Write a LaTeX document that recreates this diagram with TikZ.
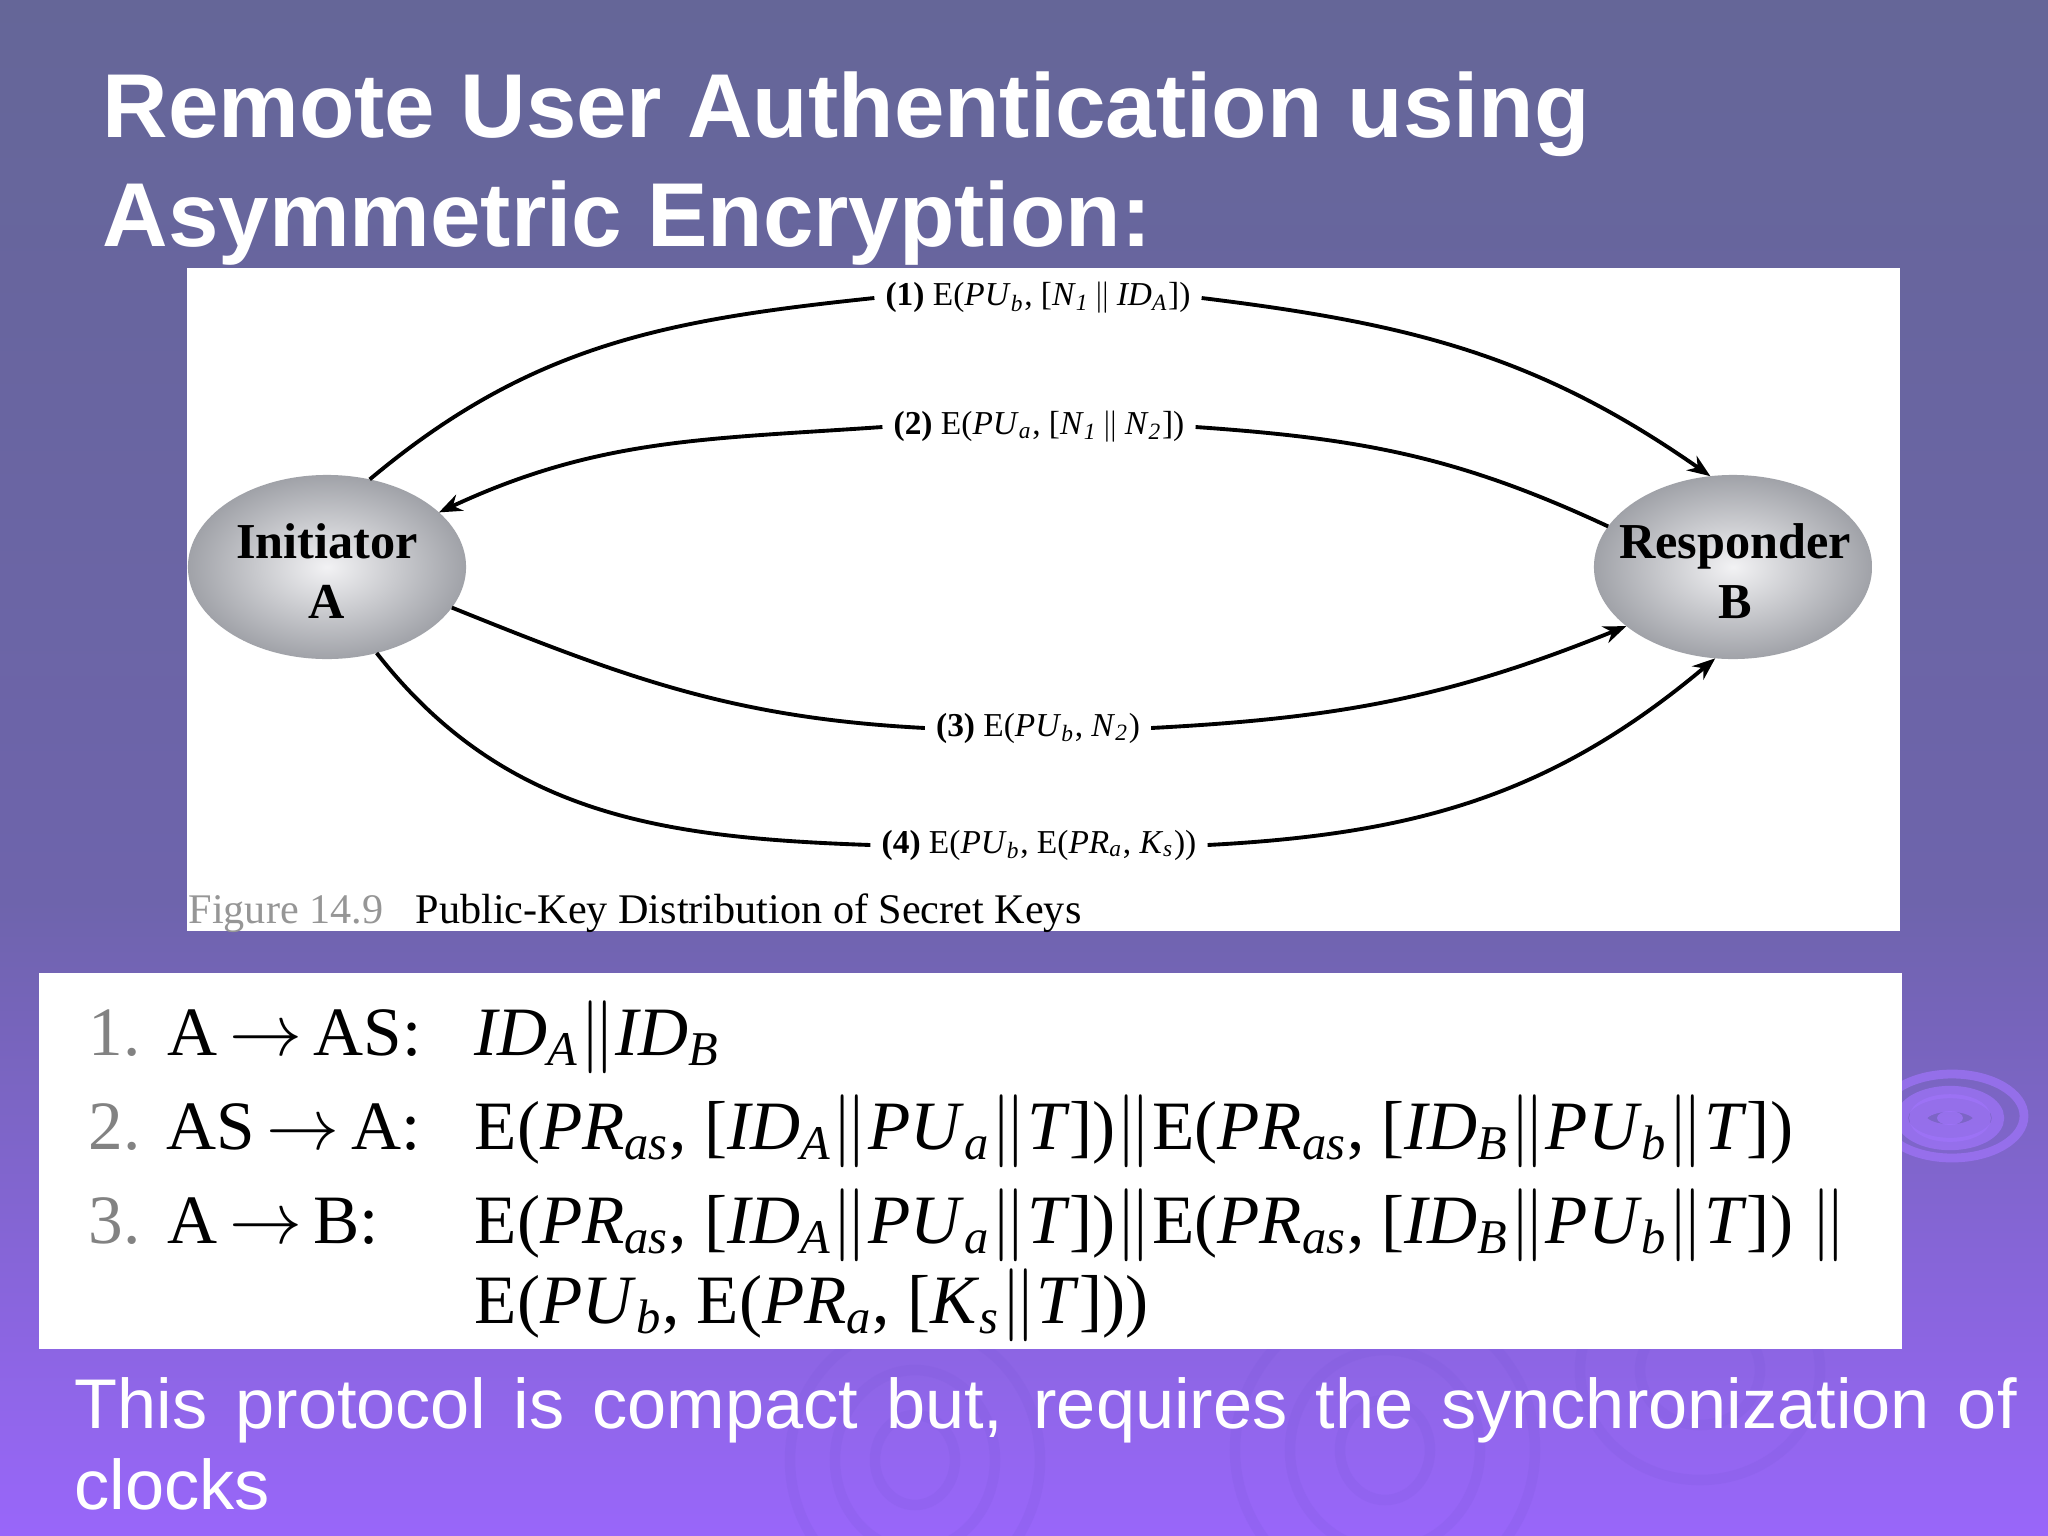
\documentclass[tikz,border=0pt]{standalone}
\usepackage{fontspec}
\setmainfont{Liberation Serif}
\newfontfamily\sansfam{Liberation Sans}
\usetikzlibrary{shapes.geometric,arrows.meta}
\definecolor{bgtop}{RGB}{101,102,152}
\definecolor{bgmid}{RGB}{110,100,172}
\definecolor{bgbot}{RGB}{153,102,250}
\definecolor{ripplec}{RGB}{160,116,250}
\definecolor{ripdark}{RGB}{120,88,215}
\definecolor{numgray}{RGB}{130,130,130}
\definecolor{figgray}{RGB}{150,150,150}
\definecolor{nodein}{RGB}{242,242,244}
\definecolor{nodeout}{RGB}{160,162,168}
\newcommand\vv[2]{\textit{#1}\textsubscript{\textit{#2}}}
\newcommand\Cat{$\|$}
\begin{document}
\begin{tikzpicture}[x=0.01cm,y=0.01cm,
  party/.style={ellipse, minimum width=2.78cm, minimum height=1.84cm, inner sep=0pt, outer sep=0pt,
    shading=radial, inner color=nodein, outer color=nodeout},
  partytext/.style={align=center, font=\fontsize{14.3}{17}\selectfont\bfseries, inner sep=0pt},
  msg/.style={fill=white, inner sep=3pt, font=\fontsize{9.5}{11}\selectfont},
  link/.style={line width=1.1pt, black},
  arrowed/.style={-{Stealth[length=6.5pt,width=5pt]}},
  listnum/.style={anchor=base west, inner sep=0pt, text=numgray, font=\fontsize{19.7}{23}\selectfont},
  listtxt/.style={anchor=base west, inner sep=0pt, font=\fontsize{19.7}{23}\selectfont},
  titletxt/.style={anchor=base west, inner sep=0pt, text=white, font=\sansfam\bfseries\fontsize{25.8}{31}\selectfont},
  capt/.style={anchor=base west, inner sep=0pt, font=\fontsize{12}{14}\selectfont},
  ring/.style={draw=ripplec, opacity=0.7},
  faint/.style={draw=ripdark, opacity=0.16, line width=3pt}
]
\useasboundingbox (0,0) rectangle (2048,-1536);
% background
\fill[top color=bgtop, bottom color=bgmid] (0,0) rectangle (2048,-901);
\fill[top color=bgmid, bottom color=bgbot] (0,-900) rectangle (2048,-1536);
% ripples right
\fill[ripplec, opacity=0.75] (1950,-1118) ellipse (13 and 7);
\draw[ring, line width=5pt] (1950,-1118) ellipse (32 and 15);
\draw[ring, line width=3.5pt] (1950,-1118) ellipse (48 and 26);
\draw[ring, line width=2.5pt] (1952,-1116) ellipse (72 and 42);
% faint ripples bottom
\draw[faint] (915,-1460) ellipse (40 and 45);
\draw[faint] (915,-1460) ellipse (80 and 90);
\draw[faint] (915,-1460) ellipse (125 and 135);
\draw[faint] (1385,-1450) ellipse (45 and 50);
\draw[faint] (1385,-1450) ellipse (95 and 100);
\draw[faint] (1385,-1450) ellipse (150 and 150);
\draw[faint] (1700,-1370) ellipse (60 and 55);
\draw[faint] (1700,-1370) ellipse (120 and 110);
% white panels
\fill[white] (187,-268) rectangle (1900,-931);
\fill[white] (39,-973) rectangle (1902,-1349);
% title
\node[titletxt] (title1) at (102,-137) {Remote User Authentication using};
\node[titletxt] (title2) at (102,-246) {Asymmetric Encryption:};
% parties
\node[party] (A) at (327,-567) {};
\node[partytext] (Atext) at (327,-571) {Initiator\\A};
\node[party] (B) at (1733,-567) {};
\node[partytext] (Btext) at (1735,-571) {Responder\\B};
% messages
\node[msg] (m1) at (1038,-298) {\textbf{(1)} E(\vv{PU}{b}, [\vv{N}{1}\,\Cat\,\vv{ID}{A}])};
\node[msg] (m2) at (1039,-427) {\textbf{(2)} E(\vv{PU}{a}, [\vv{N}{1}\,\Cat\,\vv{N}{2}])};
\node[msg] (m3) at (1038,-728) {\textbf{(3)} E(\vv{PU}{b}, \vv{N}{2})};
\node[msg] (m4) at (1039,-845) {\textbf{(4)} E(\vv{PU}{b}, E(\vv{PR}{a}, \vv{K}{s}))};
% connectors
\draw[link,arrowed] (A.64) to[out=40,in=186] (m1.west) (m1.east) to[out=-7,in=145] (B.104);
\draw[link,arrowed] (B.162) to[out=155,in=-4] (m2.east) (m2.west) to[out=184,in=25] (A.26);
\draw[link,arrowed] (A.-18) to[out=-22,in=177] (m3.west) (m3.east) to[out=3,in=202] (B.209);
\draw[link,arrowed] (A.-60) to[out=-52,in=178] (m4.west) (m4.east) to[out=3,in=220] (B.259);
% caption
\node[capt, text=figgray] (figno) at (188,-923) {Figure 14.9};
\node[capt] (figcap) at (415,-923) {Public-Key Distribution of Secret Keys};
% protocol steps
\node[listnum] (n1) at (88,-1055) {1.};
\node[listtxt] (s1) at (167,-1055) {A\,$\rightarrow$\,AS:};
\node[listtxt] (f1) at (474,-1055) {\vv{ID}{A}\Cat\vv{ID}{B}};
\node[listnum] (n2) at (88,-1149) {2.};
\node[listtxt] (s2) at (166,-1149) {AS\,$\rightarrow$\,A:};
\node[listtxt] (f2) at (474,-1149) {E(\vv{PR}{as}, [\vv{ID}{A}\Cat\vv{PU}{a}\Cat\textit{T}])\Cat E(\vv{PR}{as}, [\vv{ID}{B}\Cat\vv{PU}{b}\Cat\textit{T}])};
\node[listnum] (n3) at (88,-1243) {3.};
\node[listtxt] (s3) at (167,-1243) {A\,$\rightarrow$\,B:};
\node[listtxt] (f3) at (474,-1243) {E(\vv{PR}{as}, [\vv{ID}{A}\Cat\vv{PU}{a}\Cat\textit{T}])\Cat E(\vv{PR}{as}, [\vv{ID}{B}\Cat\vv{PU}{b}\Cat\textit{T}]) \Cat};
\node[listtxt] (f4) at (474,-1323) {E(\vv{PU}{b}, E(\vv{PR}{a}, [\vv{K}{s}\Cat\textit{T}]))};
% note
\node[anchor=base west, inner sep=0pt, text=white] (note) at (74,-1428)
  {\parbox[t]{19.41cm}{\sansfam\fontsize{20}{23.3}\selectfont\hyphenpenalty=10000 This protocol is compact but, requires the synchronization of clocks}};
\end{tikzpicture}
\end{document}
